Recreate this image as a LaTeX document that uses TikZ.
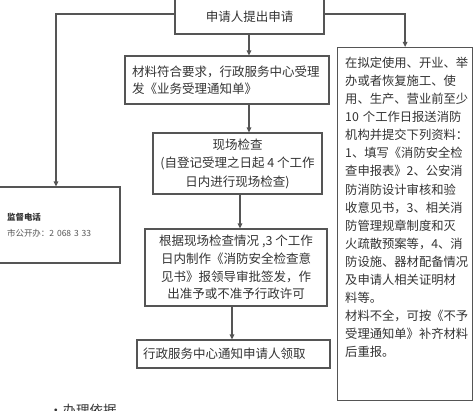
\documentclass[tikz,border=0pt]{standalone}
\usepackage{fontspec}
\setmainfont{Noto Sans CJK SC}
\usetikzlibrary{arrows.meta,calc}
\definecolor{linec}{HTML}{555555}
\definecolor{txt}{HTML}{333333}
\tikzset{
  box/.style={draw=linec, line width=1.2pt, text=txt, inner sep=0pt,
    font=\fontsize{12.5}{17.7}\selectfont},
  conn/.style={draw=linec, line width=1.3pt},
  arr/.style={conn, -{Triangle[length=5pt,width=4.5pt]}},
  plain/.style={text=txt, inner sep=0pt},
}
\begin{document}
\begin{tikzpicture}[x=1pt,y=-1pt]
\useasboundingbox[fill=white] (0,0) rectangle (474,411);

\node[box, minimum width=149pt, minimum height=35pt] (A) at (249.5,16.5) {申请人提出申请};

\node[box, minimum width=204pt, minimum height=48pt, text width=190pt, align=left,
  font=\fontsize{12.5}{17}\selectfont] (B) at (227,80)
  {材料符合要求，行政服务中心受理\\发《业务受理通知单》};

\node[box, minimum width=169pt, minimum height=61pt, align=center,
  font=\fontsize{12.5}{18.5}\selectfont] (C) at (237.5,163.5)
  {现场检查\\(自登记受理之日起 4 个工作\\日内进行现场检查)};

\node[box, minimum width=182pt, minimum height=77pt, align=center] (D) at (236,267.5)
  {根据现场检查情况 ,3 个工作\\日内制作《消防安全检查意\\见书》报领导审批签发，作\\出准予或不准予行政许可};

\node[box, minimum width=193pt, minimum height=28pt, text width=181pt, align=left] (E) at (233.5,354)
  {行政服务中心通知申请人领取};

\node[box, minimum width=122pt, minimum height=76pt, text width=104pt, align=left,
  font=\fontsize{8.5}{16}\selectfont] (F) at (59,225)
  {{\bfseries 监督电话}\\{\color{linec}市公开办：2 068 3 33}};

\node[box, minimum width=135pt, minimum height=353pt, anchor=north west] (G) at (337,47) {};
\node[plain, anchor=north west, text width=128pt, align=left,
  font=\fontsize{12.3}{18.06}\selectfont] (Gt) at (345,57)
  {在拟定使用、开业、举\\办或者恢复施工、使\\用、生产、营业前至少\\10 个工作日报送消防\\机构并提交下列资料：\\1、填写《消防安全检\\查申报表》2、公安消\\防消防设计审核和验\\收意见书，3、相关消\\防管理规章制度和灭\\火疏散预案等，4、消\\防设施、器材配备情况\\及申请人相关证明材\\料等。\\材料不全，可按《不予\\受理通知单》补齐材料\\后重报。};

\node[plain, anchor=base west, font=\fontsize{13.5}{14}\selectfont] (H) at (49,416) {•办理依据};

\draw[arr] ([yshift=2.5pt]A.west) -| ([xshift=-3pt]F.north);
\draw[arr] ([yshift=2.5pt]A.east) -| (G.north);
\draw[arr] ([xshift=-0.5pt]A.south) -- ([xshift=-0.5pt]A.south |- B.north);
\draw[arr] ([xshift=-0.5pt]A.south |- B.south) -- ([xshift=-0.5pt]A.south |- C.north);
\draw[arr] ([xshift=2.5pt]C.south) -- ([xshift=2.5pt]C.south |- D.north);
\draw[arr] ([xshift=-4pt]D.south) -- ([xshift=-4pt]D.south |- E.north);
\end{tikzpicture}
\end{document}
